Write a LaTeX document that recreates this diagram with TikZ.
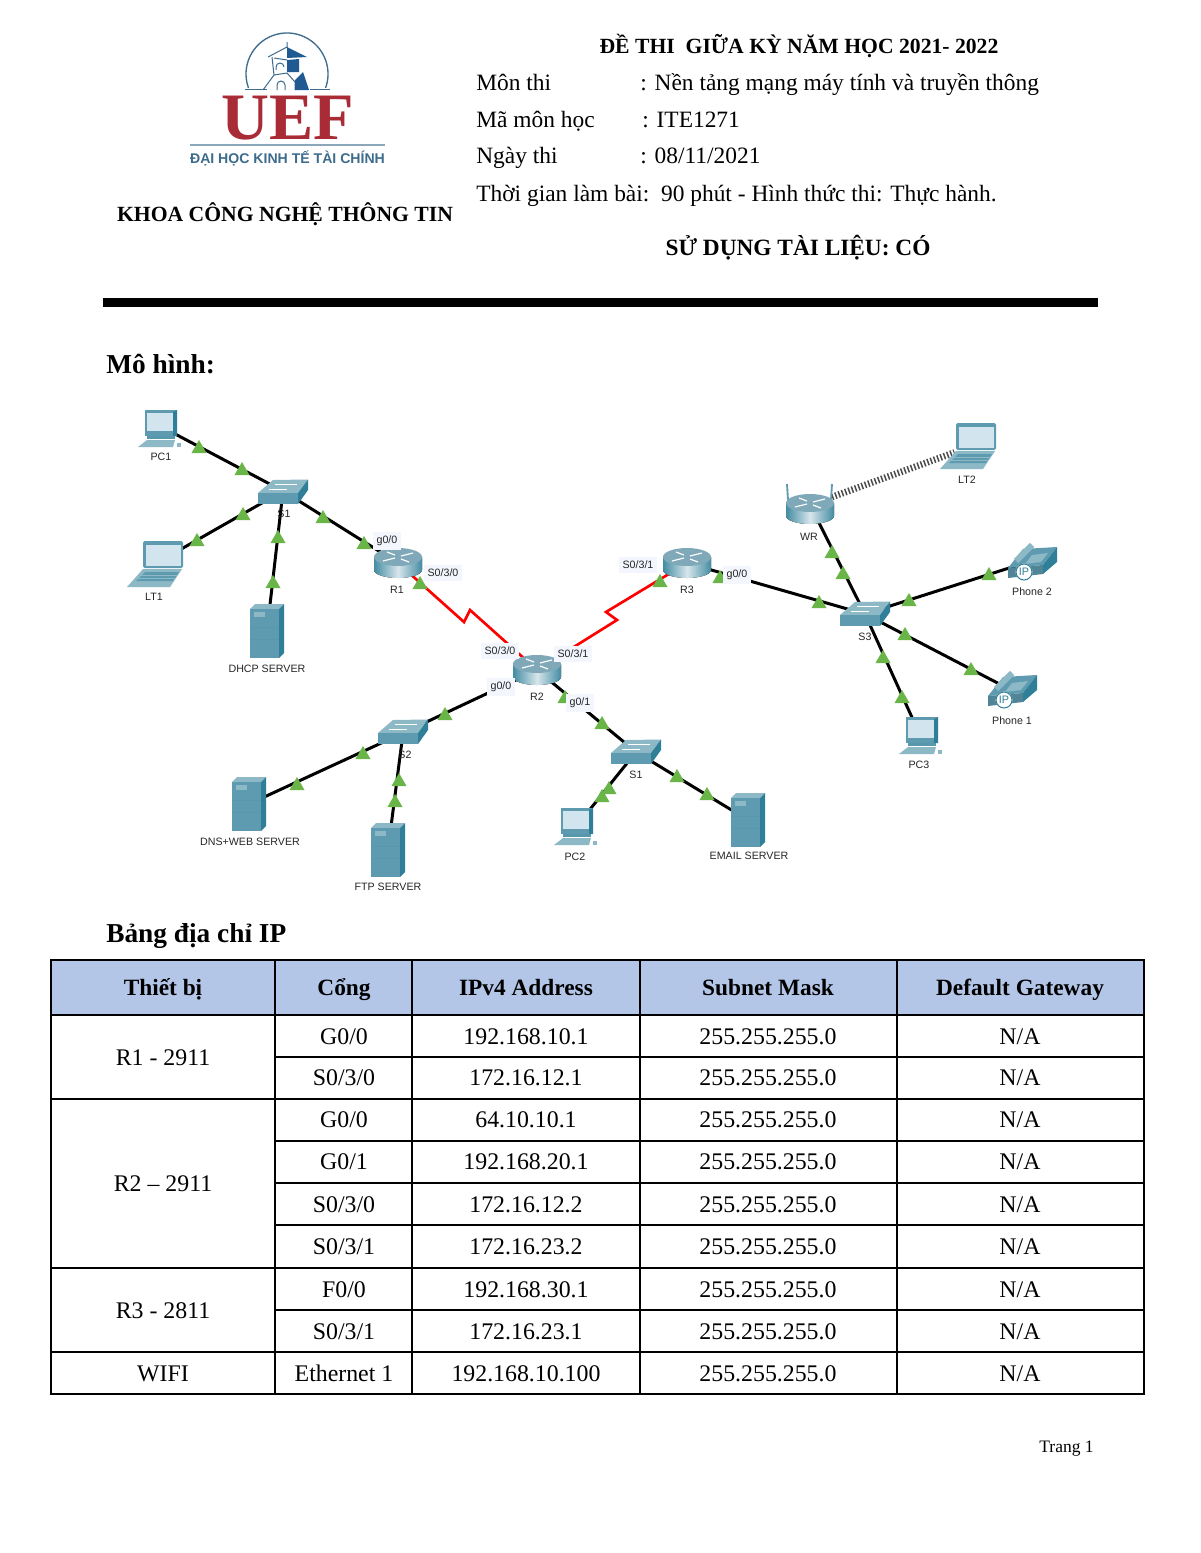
\documentclass[tikz,border=0pt]{standalone}
\usepackage{fontspec}
\setmainfont{Liberation Serif}
\newfontfamily\lblfont{Liberation Sans}
\definecolor{tealmain}{HTML}{5E9BB0}
\definecolor{tealdark}{HTML}{2F7F98}
\definecolor{tealtop}{HTML}{8DB8C6}
\definecolor{screenc}{HTML}{D2E5EE}
\definecolor{lnkgreen}{HTML}{6AB547}
\definecolor{hdrblue}{HTML}{B4C6E7}
\definecolor{uefred}{HTML}{A92B36}
\definecolor{uefblue}{HTML}{3E6C8C}
\definecolor{uefdark}{HTML}{1F5A93}
\definecolor{lblbg}{HTML}{F4F6FE}
\definecolor{routertop}{HTML}{7FA9B9}
\usetikzlibrary{calc}
\tikzset{
  x=0.6pt,y=-0.6pt,
  capbox/.style={inner sep=0pt,text depth=0pt},
  txt/.style={capbox,text height=9.4pt,font=\fontsize{14.3}{16}\selectfont},
  txtl/.style={capbox,text height=9.3pt,anchor=west,font=\fontsize{14.05}{16}\selectfont},
  btxt/.style={capbox,text height=9.2pt,font=\fontsize{14}{16}\selectfont\bfseries},
  btitle/.style={capbox,text height=8.6pt,font=\fontsize{13}{16}\selectfont\bfseries},
  head/.style={capbox,text height=10.8pt,anchor=west,font=\fontsize{16.4}{18}\selectfont\bfseries},
  devlabel/.style={inner sep=0pt,font=\lblfont\fontsize{6.4}{7}\selectfont,text=black!85},
  portlabel/.style={devlabel,fill=lblbg,inner sep=2.2pt},
  hub/.style={inner sep=0pt,minimum size=0pt},
  lnk/.style={draw=black,line width=1.8pt},
  serial/.style={draw=red,line width=1.6pt},
  wifi/.style={draw=black!70,line width=4pt,dash pattern=on 0.9pt off 1.2pt,shorten <=14pt,shorten >=13pt},
  tbl/.style={draw=black,line width=1.1pt},
  pics/lamp/.style={code={\fill[lnkgreen] (-7.5,6) -- (0,-7) -- (7.5,6) -- cycle;}},
  pics/switchicon/.style={code={
    \fill[tealtop] (-25,1) -- (-10,-12) -- (25,-12.5) -- (15,1) -- cycle;
    \fill[tealmain] (-25,1) -- (15,1) -- (15,12) -- (-25,12) -- cycle;
    \fill[tealdark] (15,1) -- (25,-12.5) -- (25,-2) -- (15,12) -- cycle;
    \draw[white,line width=.5pt] (-14,-3) -- (4,-3) (-8,-8) -- (14,-8);
  }},
  pics/routericon/.style={code={
    \fill[left color=tealdark!90,right color=tealdark!90,middle color=white!75!tealmain]
      (-24,-6) -- (-24,7) arc[start angle=180,end angle=0,x radius=24,y radius=8] -- (24,-6) -- cycle;
    \fill[routertop] (0,-6) ellipse[x radius=24,y radius=9];
    \draw[white,line width=.7pt] (-15,-2) -- (-3,-5) (15,-10) -- (3,-7) (-11,-11) -- (-3,-8) (11,-1) -- (3,-4);
  }},
  pics/servericon/.style={code={
    \fill[tealtop] (-17,-22) -- (-12,-27) -- (17,-27) -- (12,-22) -- cycle;
    \fill[tealmain] (-17,-22) rectangle (12,27);
    \fill[tealdark] (12,-22) -- (17,-27) -- (17,22) -- (12,27) -- cycle;
    \fill[tealtop] (-13,-19) rectangle (-2,-14);
    \draw[tealdark!80,line width=.4pt] (-17,-4) -- (12,-4) (-17,8) -- (12,8);
  }},
  pics/laptopicon/.style={code={
    \fill[tealmain,rounded corners=1pt] (16,0) rectangle (56,27);
    \fill[screenc] (19,4) rectangle (54,25);
    \fill[tealtop] (16,28) -- (55,28) -- (43,46) -- (0,46) -- cycle;
    \fill[tealmain] (18,31) -- (52,31) -- (46,40) -- (9,40) -- cycle;
    \draw[tealtop,line width=.4pt] (14,34) -- (50,34) (11,37) -- (48,37);
  }},
  pics/pcicon/.style={code={
    \fill[tealmain] (7,0) rectangle (39,26);
    \fill[screenc] (9,3) rectangle (35,21);
    \fill[tealdark] (35,2) -- (39,0) -- (39,26) -- (35,26) -- cycle;
    \fill[tealdark!80] (9,26) rectangle (37,29);
    \fill[tealtop] (0,37) -- (9,30) -- (37,30) -- (35,37) -- cycle;
    \fill[tealtop] (39,33) rectangle (43,37);
  }},
  pics/phoneicon/.style={code={
    \fill[tealmain] (3,27) -- (18,8) -- (52,6) -- (38,24) -- cycle;
    \fill[tealmain!85!black] (3,27) -- (38,24) -- (38,33) -- (3,37) -- cycle;
    \fill[tealdark] (38,24) -- (52,6) -- (52,21) -- (38,33) -- cycle;
    \fill[tealtop] (27,14) -- (43,12) -- (36,21) -- (20,23) -- cycle;
    \draw[tealtop,line width=3.6pt] (11,20) -- (27,4);
    \fill[white] (19,31) circle[radius=8.5];
    \draw[tealdark,line width=.6pt] (19,31) circle[radius=8];
    \node[inner sep=0pt,text=tealdark,font=\lblfont\fontsize{6.5}{7}\selectfont] at (19,31) {IP};
  }},
}
\begin{document}
\begin{tikzpicture}
\useasboundingbox (0,0) rectangle (1200,1553);
\fill[white] (0,0) rectangle (1200,1553);

% ---------- logo ----------
\draw[uefblue,line width=.8pt] (248.5,88) arc[start angle=160,end angle=380,radius=41];
\draw[uefblue,line width=.7pt] (245,89.5) -- (267,89.5) (310,89.5) -- (330,89.5);
\draw[uefblue,line width=.6pt] (287,42) -- (287,48) (268,57) -- (287,47)
  (272,57) -- (274,75) -- (263,90) (274,58) -- (287,60) (274,75) -- (287,73) -- (295,82) -- (295,90)
  (277,90) -- (277,85) arc[start angle=180,end angle=360,radius=4] -- (285,90)
  (276,70) -- (276,67) arc[start angle=180,end angle=360,radius=4];
\fill[uefdark] (287,47) -- (307,57) -- (287,58) -- cycle;
\fill[uefdark] (287,60) -- (299,59) -- (299,72) -- (287,72) -- cycle;
\fill[uefdark] (295,80) -- (303,72) -- (309,90) -- (295,90) -- cycle;
\node[inner sep=0pt,text height=26.3pt,text depth=0pt,text=uefred,font=\fontsize{39.8}{42}\selectfont\bfseries] (uef) at (288,118) {UEF};
\draw[uefblue!60,line width=.7pt] (190,145) -- (385,145);
\node[inner sep=0pt,text=uefblue,font=\lblfont\fontsize{8.45}{9}\selectfont\bfseries] (uefname) at (287.5,158) {ĐẠI HỌC KINH TẾ TÀI CHÍNH};

% ---------- header ----------
\node[btitle] (khoa) at (285,214) {KHOA CÔNG NGHỆ THÔNG TIN};
\node[btitle] (title) at (799,46) {ĐỀ THI\ \ GIỮA KỲ NĂM HỌC 2021- 2022};
\node[txtl] (mon) at (476,83) {Môn thi};
\node[txtl] (mon2) at (640,83) {: Nền tảng mạng máy tính và truyền thông};
\node[txtl] (ma) at (476,120) {Mã môn học};
\node[txtl] (ma2) at (642,120) {: ITE1271};
\node[txtl] (ngay) at (476,156) {Ngày thi};
\node[txtl] (ngay2) at (640,156) {: 08/11/2021};
\node[txtl] (tg) at (476,194) {Thời gian làm bài:\ \ 90 phút - Hình thức thi: Thực hành.};
\node[btxt] (sd) at (798,248) {SỬ DỤNG TÀI LIỆU: CÓ};
\fill[black] (103,298) rectangle (1098,307);
\node[head] (mohinh) at (106,364) {Mô hình:};
\node[head] (bang) at (106,933) {Bảng địa chỉ IP};

% ---------- network hubs ----------
\node[hub] (pc1) at (160,426) {};
\node[hub] (sw1) at (283,491) {};
\node[hub] (lt1) at (155,564) {};
\node[hub] (dhcp) at (267,631) {};
\node[hub] (r1) at (398,563) {};
\node[hub] (r2) at (537,670) {};
\node[hub] (r3) at (687,563) {};
\node[hub] (sw3) at (865,614) {};
\node[hub] (wr) at (810,505) {};
\node[hub] (lt2) at (975,445) {};
\node[hub] (ph2) at (1031,561) {};
\node[hub] (ph1) at (1011,690) {};
\node[hub] (pc3) at (920,735) {};
\node[hub] (swb) at (636,752) {};
\node[hub] (sw2) at (403,733) {};
\node[hub] (dns) at (249,804) {};
\node[hub] (ftp) at (388,850) {};
\node[hub] (pc2) at (575,828) {};
\node[hub] (mail) at (748,820) {};
\coordinate (zz1a) at (464,622);
\coordinate (zz1b) at (470,610);
\coordinate (zz2a) at (617,620);
\coordinate (zz2b) at (606,612);

% ---------- connectors ----------
\draw[lnk] (pc1.center) -- (sw1.center);
\draw[lnk] (lt1.center) -- (sw1.center);
\draw[lnk] (dhcp.center) -- (sw1.center);
\draw[lnk] (r1.center) -- (sw1.center);
\draw[lnk] (r3.center) -- (sw3.center);
\draw[lnk] (wr.center) -- (sw3.center);
\draw[lnk] (ph2.center) -- (sw3.center);
\draw[lnk] (ph1.center) -- (sw3.center);
\draw[lnk] (pc3.center) -- (sw3.center);
\draw[lnk] (r2.center) -- (sw2.center);
\draw[lnk] (sw2.center) -- (dns.center);
\draw[lnk] (sw2.center) -- (ftp.center);
\draw[lnk] (r2.center) -- (swb.center);
\draw[lnk] (swb.center) -- (pc2.center);
\draw[lnk] (swb.center) -- (mail.center);
\draw[serial] (r1.center) -- (zz1a) -- (zz1b) -- (r2.center);
\draw[serial] (r2.center) -- (zz2a) -- (zz2b) -- (r3.center);
\draw[wifi] (wr.center) -- (lt2.center);

% ---------- link lights ----------
\foreach \p in {(199,447),(242,469),(243,514),(197,540),(278,537),(273,582),(323,517),(364,543),(420,583),
  (660,581),(720,577),(819,602),(832,552),(843,573),(909,600),(989,574),(905,634),(971,669),(883,657),(902,697),
  (445,714),(363,753),(297,784),(399,780),(395,801),(602,723),(565,697),(609,788),(602,796),(677,776),(707,794)}
  \pic at \p {lamp};

% ---------- device icons ----------
\pic at (138,410) {pcicon};
\pic at (283,492) {switchicon};
\pic at (127,541) {laptopicon};
\pic at (267,631) {servericon};
\pic at (398,563) {routericon};
\pic at (537,670) {routericon};
\pic at (687,563) {routericon};
\pic at (865,614) {switchicon};
\draw[tealmain,line width=1.1pt] (787,484) -- (788,500) (832,484) -- (831,500);
\pic at (810,509) {routericon};
\pic at (940,423) {laptopicon};
\pic at (1005,541) {phoneicon};
\pic at (985,669) {phoneicon};
\pic at (899,717) {pcicon};
\pic at (636,752) {switchicon};
\pic at (403,732) {switchicon};
\pic at (249,804) {servericon};
\pic at (388,850) {servericon};
\pic at (554,808) {pcicon};
\pic at (748,820) {servericon};

% ---------- device labels ----------
\node[devlabel] (lpc1) at (161,457) {PC1};
\node[devlabel] (ls1) at (284,514) {S1};
\node[devlabel] (llt1) at (154,597) {LT1};
\node[devlabel] (ldhcp) at (267,669) {DHCP SERVER};
\node[devlabel] (lr1) at (397,590) {R1};
\node[devlabel] (lr2) at (537,697) {R2};
\node[devlabel] (lr3) at (687,590) {R3};
\node[devlabel] (lwr) at (809,537) {WR};
\node[devlabel] (llt2) at (967,480) {LT2};
\node[devlabel] (lph2) at (1032,592) {Phone 2};
\node[devlabel] (lph1) at (1012,721) {Phone 1};
\node[devlabel] (lpc3) at (919,765) {PC3};
\node[devlabel] (ls3) at (865,637) {S3};
\node[devlabel] (lsb) at (636,775) {S1};
\node[devlabel] (ls2) at (405,755) {S2};
\node[devlabel] (ldns) at (250,842) {DNS+WEB SERVER};
\node[devlabel] (lftp) at (388,887) {FTP SERVER};
\node[devlabel] (lpc2) at (575,857) {PC2};
\node[devlabel] (lmail) at (749,856) {EMAIL SERVER};

% ---------- port labels ----------
\node[portlabel] (p1) at (387,541) {g0/0};
\node[portlabel] (p2) at (443,573) {S0/3/0};
\node[portlabel] (p3) at (500,651) {S0/3/0};
\node[portlabel] (p4) at (573,654) {S0/3/1};
\node[portlabel] (p5) at (501,687) {g0/0};
\node[portlabel] (p6) at (580,703) {g0/1};
\node[portlabel] (p7) at (638,565) {S0/3/1};
\node[portlabel] (p8) at (737,575) {g0/0};

% ---------- table ----------
\fill[hdrblue] (51,960) rectangle (1144,1015);
\draw[tbl] (51,960) rectangle (1144,1394);
\draw[tbl] (275,960) -- (275,1394) (412,960) -- (412,1394) (640,960) -- (640,1394) (897,960) -- (897,1394);
\draw[tbl] (51,1015) -- (1144,1015) (51,1099) -- (1144,1099) (51,1268) -- (1144,1268) (51,1352) -- (1144,1352);
\draw[tbl] (275,1057) -- (1144,1057) (275,1141) -- (1144,1141) (275,1183) -- (1144,1183) (275,1225) -- (1144,1225) (275,1310) -- (1144,1310);
\node[btxt] (h1) at (163,988) {Thiết bị};
\node[btxt] (h2) at (344,988) {Cổng};
\node[btxt] (h3) at (526,988) {IPv4 Address};
\node[btxt] (h4) at (768,988) {Subnet Mask};
\node[btxt] (h5) at (1020,988) {Default Gateway};
\node[txt] (d1) at (163,1058) {R1 - 2911};
\node[txt] (d2) at (163,1184) {R2 – 2911};
\node[txt] (d3) at (163,1311) {R3 - 2811};
\node[txt] (d4) at (163,1374) {WIFI};
\foreach \y/\port/\ip in {
  1037/G0\slash 0/192.168.10.1,
  1078/S0\slash 3\slash 0/172.16.12.1,
  1120/G0\slash 0/64.10.10.1,
  1162/G0\slash 1/192.168.20.1,
  1205/S0\slash 3\slash 0/172.16.12.2,
  1247/S0\slash 3\slash 1/172.16.23.2,
  1290/F0\slash 0/192.168.30.1,
  1332/S0\slash 3\slash 1/172.16.23.1,
  1374/Ethernet 1/192.168.10.100}{
  \node[txt] at (344,\y) {\port};
  \node[txt] at (526,\y) {\ip};
  \node[txt] at (768,\y) {255.255.255.0};
  \node[txt] at (1020,\y) {N/A};
}
\node[inner sep=0pt,text height=6.9pt,text depth=0pt,anchor=east,font=\fontsize{10.5}{12}\selectfont] (trang) at (1094,1447) {Trang 1};
\end{tikzpicture}
\end{document}
